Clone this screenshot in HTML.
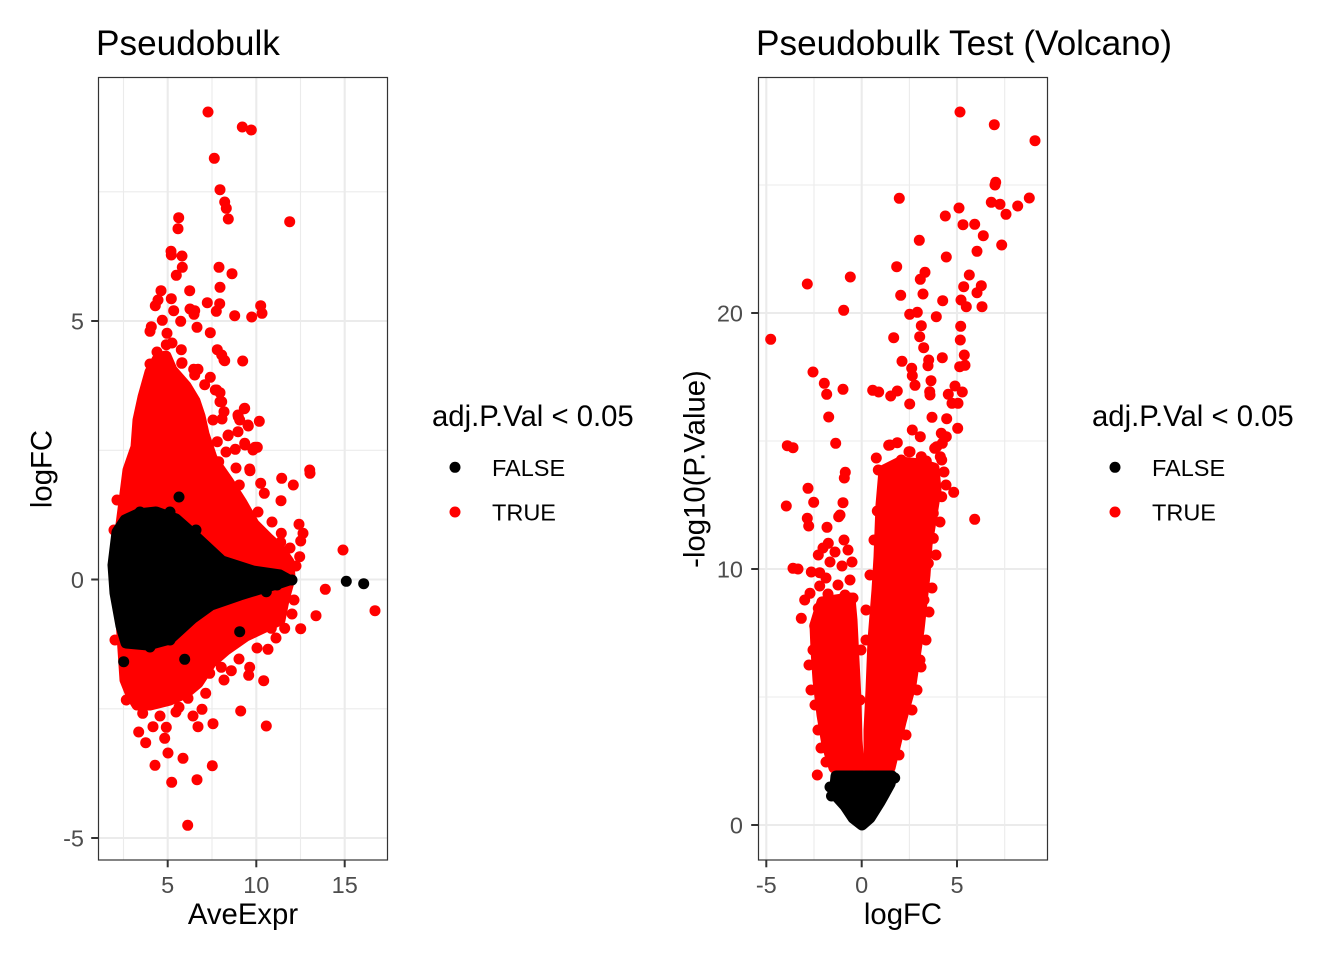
<!DOCTYPE html>
<html><head><meta charset="utf-8"><style>
html,body{margin:0;padding:0;background:#fff;}
svg{display:block;}
text{font-family:"Liberation Sans",Arial,sans-serif;}
</style></head><body>
<svg width="1344" height="960" viewBox="0 0 1344 960" xmlns="http://www.w3.org/2000/svg">
<rect width="1344" height="960" fill="#fff"/>
<defs>
<clipPath id="cl"><rect x="98.5" y="77.5" width="289" height="782.5"/></clipPath>
<clipPath id="cr"><rect x="758.5" y="77.5" width="289" height="782.5"/></clipPath>
</defs>

<text x="96" y="55" font-size="35.2" fill="#000">Pseudobulk</text>
<text x="756" y="55" font-size="35.2" fill="#000">Pseudobulk Test (Volcano)</text>

<!-- ===== LEFT PANEL ===== -->
<g stroke="#EBEBEB" fill="none">
<g stroke-width="1.1">
<line x1="123.5" y1="77.5" x2="123.5" y2="860"/><line x1="212" y1="77.5" x2="212" y2="860"/><line x1="300.5" y1="77.5" x2="300.5" y2="860"/>
<line x1="98.5" y1="191.8" x2="387.5" y2="191.8"/><line x1="98.5" y1="450.3" x2="387.5" y2="450.3"/><line x1="98.5" y1="708.8" x2="387.5" y2="708.8"/>
</g>
<g stroke-width="2.1">
<line x1="167.7" y1="77.5" x2="167.7" y2="860"/><line x1="256.3" y1="77.5" x2="256.3" y2="860"/><line x1="344.7" y1="77.5" x2="344.7" y2="860"/>
<line x1="98.5" y1="321" x2="387.5" y2="321"/><line x1="98.5" y1="579.5" x2="387.5" y2="579.5"/><line x1="98.5" y1="838" x2="387.5" y2="838"/>
</g>
</g>

<g clip-path="url(#cl)">
<path fill="#FF0000" stroke="#FF0000" stroke-width="11" stroke-linejoin="round" d="M166,356 L172,370 L186,386 L195,401 L200,416 L204,434 L212,458 L228,481 L242,503 L254,524 L268,538 L280,549 L289,562 L290,578 L284,600 L280,620 L263,628 L246,636 L226,650 L211,663 L198,683 L186,693 L170,700 L150,705 L137,705 L131,695 L125,680 L123,650 L121,620 L119,580 L119,540 L122,517 L128,470 L136,447 L138,420 L143,397 L150,372 L158,358 Z"/>
<g fill="#FF0000">
<circle cx="208" cy="112" r="5.5"/><circle cx="242.3" cy="127" r="5.5"/><circle cx="251.3" cy="130" r="5.5"/><circle cx="214.3" cy="158.3" r="5.5"/><circle cx="220" cy="189.7" r="5.5"/><circle cx="224.7" cy="202" r="5.5"/><circle cx="226.3" cy="208.3" r="5.5"/><circle cx="228.3" cy="219" r="5.5"/><circle cx="289.7" cy="221.7" r="5.5"/><circle cx="178.7" cy="217.7" r="5.5"/><circle cx="178" cy="228.7" r="5.5"/><circle cx="171" cy="251.3" r="5.5"/><circle cx="171.3" cy="255" r="5.5"/><circle cx="182" cy="256" r="5.5"/><circle cx="182.3" cy="267.3" r="5.5"/><circle cx="176.3" cy="275.3" r="5.5"/><circle cx="219" cy="267.3" r="5.5"/><circle cx="232" cy="273.7" r="5.5"/><circle cx="220" cy="287.3" r="5.5"/><circle cx="161" cy="290.7" r="5.5"/><circle cx="158" cy="300" r="5.5"/><circle cx="155.3" cy="305.7" r="5.5"/><circle cx="171.3" cy="298.7" r="5.5"/><circle cx="189.7" cy="290.7" r="5.5"/><circle cx="207.3" cy="302.7" r="5.5"/><circle cx="219.7" cy="303.7" r="5.5"/><circle cx="216.3" cy="311.3" r="5.5"/><circle cx="173.7" cy="310.7" r="5.5"/><circle cx="190" cy="309" r="5.5"/><circle cx="194.7" cy="310.7" r="5.5"/><circle cx="194" cy="314.3" r="5.5"/><circle cx="234.7" cy="315.7" r="5.5"/><circle cx="251.7" cy="317" r="5.5"/><circle cx="260.7" cy="305.7" r="5.5"/><circle cx="262" cy="313.3" r="5.5"/><circle cx="162.3" cy="320.3" r="5.5"/><circle cx="180.7" cy="321.3" r="5.5"/><circle cx="151.3" cy="326.7" r="5.5"/><circle cx="150" cy="331.3" r="5.5"/><circle cx="167" cy="333.3" r="5.5"/><circle cx="197" cy="327.3" r="5.5"/><circle cx="210.3" cy="332.7" r="5.5"/><circle cx="166.3" cy="344.7" r="5.5"/><circle cx="172" cy="343" r="5.5"/><circle cx="157" cy="352" r="5.5"/><circle cx="150" cy="364" r="5.5"/><circle cx="181.3" cy="349.7" r="5.5"/><circle cx="217.3" cy="349.7" r="5.5"/><circle cx="221.7" cy="355" r="5.5"/><circle cx="224.7" cy="360.7" r="5.5"/><circle cx="242.7" cy="361" r="5.5"/><circle cx="182" cy="362.7" r="5.5"/><circle cx="193.7" cy="369.3" r="5.5"/><circle cx="198" cy="369.3" r="5.5"/><circle cx="194.7" cy="375" r="5.5"/><circle cx="210.3" cy="377.3" r="5.5"/><circle cx="204.7" cy="384.7" r="5.5"/><circle cx="215.3" cy="390" r="5.5"/><circle cx="220" cy="392.7" r="5.5"/><circle cx="220" cy="401.7" r="5.5"/><circle cx="180.7" cy="400" r="5.5"/><circle cx="224" cy="411.7" r="5.5"/><circle cx="222" cy="419" r="5.5"/><circle cx="244.7" cy="408.3" r="5.5"/><circle cx="238" cy="415" r="5.5"/><circle cx="239.7" cy="420" r="5.5"/><circle cx="248" cy="425" r="5.5"/><circle cx="259.3" cy="421.3" r="5.5"/><circle cx="228" cy="435.7" r="5.5"/><circle cx="238" cy="431.7" r="5.5"/><circle cx="217.3" cy="441.7" r="5.5"/><circle cx="235.3" cy="449.3" r="5.5"/><circle cx="244.7" cy="443.3" r="5.5"/><circle cx="253" cy="450" r="5.5"/><circle cx="257.3" cy="447.3" r="5.5"/><circle cx="218.7" cy="461.7" r="5.5"/><circle cx="249.7" cy="469" r="5.5"/><circle cx="309.7" cy="470" r="5.5"/>
<circle cx="181.7" cy="363.3" r="5.5"/><circle cx="224" cy="360" r="5.5"/><circle cx="216.7" cy="390" r="5.5"/><circle cx="221.7" cy="401.7" r="5.5"/><circle cx="244.3" cy="408.7" r="5.5"/><circle cx="238.3" cy="416.7" r="5.5"/><circle cx="248.3" cy="426" r="5.5"/><circle cx="228.3" cy="435" r="5.5"/><circle cx="245" cy="445" r="5.5"/><circle cx="255" cy="447.3" r="5.5"/><circle cx="250" cy="470.7" r="5.5"/><circle cx="260.7" cy="483.3" r="5.5"/><circle cx="264.3" cy="493.3" r="5.5"/><circle cx="281.7" cy="478.3" r="5.5"/><circle cx="293.3" cy="485" r="5.5"/><circle cx="310" cy="473.3" r="5.5"/><circle cx="281" cy="500.7" r="5.5"/><circle cx="299" cy="524.3" r="5.5"/>
<circle cx="239.3" cy="485" r="5.5"/><circle cx="238" cy="498" r="5.5"/><circle cx="303" cy="533.3" r="5.5"/><circle cx="300.7" cy="541" r="5.5"/><circle cx="299.7" cy="556.7" r="5.5"/><circle cx="281.3" cy="533.3" r="5.5"/><circle cx="280.7" cy="542.3" r="5.5"/><circle cx="268" cy="541" r="5.5"/><circle cx="343" cy="550" r="5.5"/><circle cx="325.3" cy="589.3" r="5.5"/><circle cx="375" cy="610.7" r="5.5"/><circle cx="316" cy="615.7" r="5.5"/><circle cx="300.7" cy="628.7" r="5.5"/><circle cx="284.7" cy="628.3" r="5.5"/><circle cx="271.3" cy="628.3" r="5.5"/><circle cx="268" cy="649.3" r="5.5"/><circle cx="263.7" cy="680.7" r="5.5"/><circle cx="249.7" cy="667.3" r="5.5"/><circle cx="248.7" cy="675.3" r="5.5"/><circle cx="231.3" cy="670.7" r="5.5"/><circle cx="221.3" cy="667.3" r="5.5"/><circle cx="209.7" cy="673.3" r="5.5"/><circle cx="205.7" cy="693.3" r="5.5"/><circle cx="240.7" cy="711" r="5.5"/><circle cx="266.3" cy="726" r="5.5"/><circle cx="213" cy="723.7" r="5.5"/><circle cx="202" cy="709.3" r="5.5"/><circle cx="193" cy="716" r="5.5"/><circle cx="198" cy="726.7" r="5.5"/><circle cx="179" cy="707.3" r="5.5"/><circle cx="188" cy="698.3" r="5.5"/><circle cx="166.3" cy="727.3" r="5.5"/><circle cx="164.7" cy="738.3" r="5.5"/><circle cx="168" cy="753" r="5.5"/><circle cx="183" cy="758.3" r="5.5"/><circle cx="155" cy="765.3" r="5.5"/><circle cx="212.3" cy="765.7" r="5.5"/><circle cx="171.7" cy="782.3" r="5.5"/><circle cx="197" cy="779.7" r="5.5"/><circle cx="187.7" cy="825.3" r="5.5"/>
<circle cx="126.3" cy="700" r="5.5"/><circle cx="142.7" cy="713.3" r="5.5"/><circle cx="138.7" cy="732" r="5.5"/><circle cx="145.7" cy="742.7" r="5.5"/><circle cx="153" cy="726.7" r="5.5"/><circle cx="160" cy="716" r="5.5"/><circle cx="176" cy="712" r="5.5"/>
<circle cx="213" cy="420" r="5.5"/><circle cx="226" cy="452" r="5.5"/><circle cx="236" cy="468" r="5.5"/><circle cx="258" cy="512" r="5.5"/><circle cx="272" cy="522" r="5.5"/><circle cx="290" cy="548" r="5.5"/><circle cx="296" cy="566" r="5.5"/><circle cx="294" cy="600" r="5.5"/><circle cx="292" cy="614" r="5.5"/><circle cx="276" cy="638" r="5.5"/><circle cx="257" cy="648" r="5.5"/><circle cx="239" cy="659" r="5.5"/><circle cx="224" cy="680" r="5.5"/><circle cx="117" cy="500" r="5.5"/><circle cx="114" cy="530" r="5.5"/><circle cx="115" cy="640" r="5.5"/>
</g>
<path fill="#000" stroke="#000" stroke-width="11" stroke-linejoin="round" d="M138,514 L156,512 L176,519 L193,534 L222,561 L253,571 L280,575 L289,580 L280,583 L263,588 L240,595 L211,605 L193,618 L170,639 L148,645 L126,643 L121,626 L115,593 L113,565 L117,532 L125,520 Z"/>
<g fill="#000">
<circle cx="179" cy="497" r="5.5"/><circle cx="239.7" cy="631.7" r="5.5"/><circle cx="184.7" cy="659.3" r="5.5"/><circle cx="123.7" cy="661.7" r="5.5"/><circle cx="346.3" cy="581.3" r="5.5"/><circle cx="363.7" cy="583.7" r="5.5"/><circle cx="266.3" cy="591.7" r="5.5"/><circle cx="270" cy="577" r="5.5"/><circle cx="285" cy="578" r="5.5"/><circle cx="292" cy="580" r="5.5"/><circle cx="277" cy="585" r="5.5"/><circle cx="262" cy="582" r="5.5"/><circle cx="196" cy="530" r="5.5"/><circle cx="170" cy="512" r="5.5"/><circle cx="140" cy="512" r="5.5"/><circle cx="150" cy="647" r="5.5"/><circle cx="170" cy="640" r="5.5"/>
</g>
</g>
<rect x="98.5" y="77.5" width="289" height="782.5" fill="none" stroke="#333333" stroke-width="1.2"/>

<g stroke="#333333" stroke-width="2">
<line x1="91.2" y1="321" x2="98.5" y2="321"/><line x1="91.2" y1="579.5" x2="98.5" y2="579.5"/><line x1="91.2" y1="838" x2="98.5" y2="838"/>
<line x1="167.7" y1="860" x2="167.7" y2="867.3"/><line x1="256.3" y1="860" x2="256.3" y2="867.3"/><line x1="344.7" y1="860" x2="344.7" y2="867.3"/>
</g>
<g font-size="23.5" fill="#4D4D4D">
<text x="84" y="329.4" text-anchor="end">5</text>
<text x="84" y="587.9" text-anchor="end">0</text>
<text x="84" y="846.4" text-anchor="end">-5</text>
<text x="167.7" y="893" text-anchor="middle">5</text>
<text x="256.3" y="893" text-anchor="middle">10</text>
<text x="344.7" y="893" text-anchor="middle">15</text>
</g>
<text x="243" y="924" font-size="29.3" text-anchor="middle" fill="#000">AveExpr</text>
<text transform="translate(51.4,469) rotate(-90)" font-size="29.3" text-anchor="middle" fill="#000">logFC</text>

<text x="432" y="426" font-size="29.3" fill="#000">adj.P.Val &lt; 0.05</text>
<circle cx="455" cy="467.3" r="5.5" fill="#000"/>
<circle cx="455" cy="512" r="5.5" fill="#FF0000"/>
<text x="492" y="476" font-size="23.5" fill="#000">FALSE</text>
<text x="492" y="520.7" font-size="23.5" fill="#000">TRUE</text>

<!-- ===== RIGHT PANEL ===== -->
<g stroke="#EBEBEB" fill="none">
<g stroke-width="1.1">
<line x1="814" y1="77.5" x2="814" y2="860"/><line x1="909.4" y1="77.5" x2="909.4" y2="860"/><line x1="1004.7" y1="77.5" x2="1004.7" y2="860"/>
<line x1="758.5" y1="185" x2="1047.5" y2="185"/><line x1="758.5" y1="441" x2="1047.5" y2="441"/><line x1="758.5" y1="697" x2="1047.5" y2="697"/>
</g>
<g stroke-width="2.1">
<line x1="766.3" y1="77.5" x2="766.3" y2="860"/><line x1="861.7" y1="77.5" x2="861.7" y2="860"/><line x1="957" y1="77.5" x2="957" y2="860"/>
<line x1="758.5" y1="313" x2="1047.5" y2="313"/><line x1="758.5" y1="569" x2="1047.5" y2="569"/><line x1="758.5" y1="825" x2="1047.5" y2="825"/>
</g>
</g>

<g clip-path="url(#cr)">
<g fill="#FF0000" stroke="#FF0000" stroke-width="11" stroke-linejoin="round">
<path d="M822,602 L850,598 L852,620 L854,660 L856,700 L857,740 L859,768 L834,768 L827,745 L822,715 L818,680 L816,650 L815,625 Z"/>
<path d="M884,470 L900,462 L920,464 L934,468 L936,490 L932,515 L927,545 L925,575 L919,630 L911,685 L901,722 L890,768 L869,768 L869,730 L871,690 L873,640 L877,590 L879,557 L881,505 Z"/>
</g>
<g fill="#FF0000">
<circle cx="960" cy="112" r="5.5"/><circle cx="994.3" cy="124.7" r="5.5"/><circle cx="1035" cy="140.7" r="5.5"/><circle cx="995.7" cy="182.3" r="5.5"/><circle cx="995" cy="185" r="5.5"/><circle cx="899.3" cy="198.3" r="5.5"/><circle cx="991.3" cy="202.3" r="5.5"/><circle cx="1000" cy="204.3" r="5.5"/><circle cx="1029.3" cy="198" r="5.5"/><circle cx="1017.7" cy="206" r="5.5"/><circle cx="1006" cy="214.3" r="5.5"/><circle cx="959" cy="208" r="5.5"/><circle cx="945.3" cy="216" r="5.5"/><circle cx="963" cy="224.7" r="5.5"/><circle cx="974.7" cy="224.3" r="5.5"/><circle cx="983.3" cy="235.7" r="5.5"/><circle cx="1001.7" cy="245" r="5.5"/><circle cx="919.3" cy="240.3" r="5.5"/><circle cx="977" cy="251.3" r="5.5"/><circle cx="946.3" cy="257" r="5.5"/><circle cx="896.7" cy="266.7" r="5.5"/><circle cx="925" cy="272.3" r="5.5"/><circle cx="920.3" cy="279.3" r="5.5"/><circle cx="807.3" cy="284" r="5.5"/><circle cx="850.3" cy="277" r="5.5"/><circle cx="969.3" cy="275" r="5.5"/><circle cx="963.7" cy="286.7" r="5.5"/><circle cx="981.3" cy="285.7" r="5.5"/><circle cx="977" cy="292.7" r="5.5"/><circle cx="900.7" cy="295.3" r="5.5"/><circle cx="923" cy="294" r="5.5"/><circle cx="942.7" cy="300.7" r="5.5"/><circle cx="961" cy="300" r="5.5"/><circle cx="966.3" cy="306.7" r="5.5"/><circle cx="982" cy="306.7" r="5.5"/><circle cx="843.7" cy="310.3" r="5.5"/><circle cx="909.7" cy="314.3" r="5.5"/><circle cx="917.3" cy="312.3" r="5.5"/><circle cx="936.3" cy="316.7" r="5.5"/><circle cx="921.3" cy="325.7" r="5.5"/><circle cx="960.7" cy="326.3" r="5.5"/><circle cx="770.7" cy="339.3" r="5.5"/><circle cx="893.7" cy="337.7" r="5.5"/><circle cx="919.7" cy="336.7" r="5.5"/><circle cx="923.7" cy="347.7" r="5.5"/><circle cx="960.3" cy="340" r="5.5"/><circle cx="964.3" cy="355" r="5.5"/><circle cx="942.3" cy="357.7" r="5.5"/><circle cx="928.7" cy="360" r="5.5"/><circle cx="928" cy="365.7" r="5.5"/><circle cx="965" cy="365.3" r="5.5"/><circle cx="959.7" cy="366.7" r="5.5"/><circle cx="902" cy="361.3" r="5.5"/><circle cx="911.7" cy="368.3" r="5.5"/><circle cx="912.3" cy="375.7" r="5.5"/><circle cx="813" cy="372" r="5.5"/><circle cx="824.3" cy="383.3" r="5.5"/><circle cx="826.7" cy="394.3" r="5.5"/><circle cx="843" cy="389.3" r="5.5"/><circle cx="872.7" cy="390.3" r="5.5"/><circle cx="878.7" cy="392" r="5.5"/><circle cx="890.7" cy="396" r="5.5"/><circle cx="897.3" cy="391" r="5.5"/><circle cx="915" cy="385.3" r="5.5"/><circle cx="931" cy="380.7" r="5.5"/><circle cx="929.7" cy="391.7" r="5.5"/><circle cx="930" cy="395" r="5.5"/><circle cx="955" cy="386" r="5.5"/><circle cx="962.3" cy="392" r="5.5"/><circle cx="948.3" cy="394.3" r="5.5"/><circle cx="952" cy="403.3" r="5.5"/><circle cx="958" cy="403.3" r="5.5"/><circle cx="909.7" cy="404" r="5.5"/><circle cx="828.7" cy="417" r="5.5"/><circle cx="932" cy="417.3" r="5.5"/><circle cx="946.7" cy="418.7" r="5.5"/><circle cx="957.7" cy="428.3" r="5.5"/><circle cx="912.3" cy="430" r="5.5"/><circle cx="920.3" cy="436.7" r="5.5"/><circle cx="941.3" cy="433.3" r="5.5"/><circle cx="946.3" cy="436.7" r="5.5"/><circle cx="942.3" cy="443.3" r="5.5"/><circle cx="787.3" cy="445.7" r="5.5"/><circle cx="793" cy="447.7" r="5.5"/><circle cx="835.7" cy="443.3" r="5.5"/><circle cx="888.7" cy="445.3" r="5.5"/><circle cx="897.3" cy="442.7" r="5.5"/><circle cx="909" cy="451.7" r="5.5"/><circle cx="934.7" cy="448.3" r="5.5"/><circle cx="876.3" cy="458" r="5.5"/><circle cx="921.3" cy="456.7" r="5.5"/><circle cx="926.3" cy="461" r="5.5"/><circle cx="940.3" cy="456.7" r="5.5"/><circle cx="901.3" cy="460" r="5.5"/>
<circle cx="786.3" cy="506" r="5.5"/><circle cx="808" cy="488.3" r="5.5"/><circle cx="813.7" cy="502.3" r="5.5"/><circle cx="807.3" cy="518.3" r="5.5"/><circle cx="808.7" cy="526" r="5.5"/><circle cx="845.3" cy="472.3" r="5.5"/><circle cx="844.3" cy="478" r="5.5"/><circle cx="843" cy="502.7" r="5.5"/><circle cx="838.7" cy="516.7" r="5.5"/><circle cx="840" cy="515" r="5.5"/><circle cx="827" cy="527.3" r="5.5"/><circle cx="844" cy="540" r="5.5"/><circle cx="828.3" cy="543.3" r="5.5"/><circle cx="818.3" cy="555" r="5.5"/><circle cx="974.7" cy="519.3" r="5.5"/><circle cx="953.7" cy="492.3" r="5.5"/><circle cx="817.3" cy="775" r="5.5"/><circle cx="793" cy="568.3" r="5.5"/><circle cx="798" cy="569" r="5.5"/><circle cx="811.3" cy="572" r="5.5"/><circle cx="819.7" cy="572.7" r="5.5"/><circle cx="804.7" cy="600" r="5.5"/><circle cx="801.3" cy="618.3" r="5.5"/><circle cx="814.7" cy="626" r="5.5"/><circle cx="819.7" cy="586" r="5.5"/><circle cx="810" cy="593.3" r="5.5"/><circle cx="818.3" cy="608.3" r="5.5"/>
<circle cx="823" cy="548" r="5.5"/><circle cx="835" cy="552" r="5.5"/><circle cx="848" cy="550" r="5.5"/><circle cx="852" cy="562" r="5.5"/><circle cx="830" cy="562" r="5.5"/><circle cx="842" cy="566" r="5.5"/><circle cx="826" cy="578" r="5.5"/><circle cx="850" cy="580" r="5.5"/><circle cx="838" cy="585" r="5.5"/><circle cx="845" cy="595" r="5.5"/><circle cx="828" cy="594" r="5.5"/><circle cx="853" cy="598" r="5.5"/><circle cx="833" cy="604" r="5.5"/>
<circle cx="813" cy="650" r="5.5"/><circle cx="809" cy="665" r="5.5"/><circle cx="811" cy="690" r="5.5"/><circle cx="815" cy="705" r="5.5"/><circle cx="818" cy="730" r="5.5"/><circle cx="821" cy="748" r="5.5"/><circle cx="826" cy="762" r="5.5"/><circle cx="860" cy="700" r="5.5"/><circle cx="861" cy="650" r="5.5"/>
<circle cx="890" cy="445" r="5.5"/><circle cx="878.3" cy="470" r="5.5"/><circle cx="886.7" cy="476.7" r="5.5"/><circle cx="910" cy="451.7" r="5.5"/><circle cx="936.7" cy="446.7" r="5.5"/><circle cx="941.7" cy="460" r="5.5"/><circle cx="941.7" cy="496.7" r="5.5"/><circle cx="933.3" cy="513.3" r="5.5"/><circle cx="933.3" cy="538.3" r="5.5"/><circle cx="928.3" cy="563.3" r="5.5"/><circle cx="877.3" cy="511" r="5.5"/><circle cx="866" cy="610" r="5.5"/><circle cx="866" cy="640" r="5.5"/><circle cx="924" cy="600" r="5.5"/><circle cx="920" cy="660" r="5.5"/>
<circle cx="944" cy="472" r="5.5"/><circle cx="946" cy="485" r="5.5"/><circle cx="940" cy="522" r="5.5"/><circle cx="936" cy="555" r="5.5"/><circle cx="932" cy="588" r="5.5"/><circle cx="929" cy="612" r="5.5"/><circle cx="926" cy="640" r="5.5"/><circle cx="921" cy="667" r="5.5"/><circle cx="917" cy="690" r="5.5"/><circle cx="912" cy="710" r="5.5"/><circle cx="906" cy="735" r="5.5"/><circle cx="899" cy="755" r="5.5"/><circle cx="874" cy="540" r="5.5"/><circle cx="870" cy="575" r="5.5"/>
</g>
<path fill="#000" stroke="#000" stroke-width="11" stroke-linejoin="round" d="M836,776 L892,776 L890,784 L880,802 L870,818 L862,825 L853,818 L845,806 L836,796 L835,786 Z"/>
<g fill="#000">
<circle cx="830" cy="787" r="5.5"/><circle cx="831.5" cy="796" r="5.5"/><circle cx="894.7" cy="778" r="5.5"/>
</g>
</g>
<rect x="758.5" y="77.5" width="289" height="782.5" fill="none" stroke="#333333" stroke-width="1.2"/>

<g stroke="#333333" stroke-width="2">
<line x1="751.2" y1="313" x2="758.5" y2="313"/><line x1="751.2" y1="569" x2="758.5" y2="569"/><line x1="751.2" y1="825" x2="758.5" y2="825"/>
<line x1="766.3" y1="860" x2="766.3" y2="867.3"/><line x1="861.7" y1="860" x2="861.7" y2="867.3"/><line x1="957" y1="860" x2="957" y2="867.3"/>
</g>
<g font-size="23.5" fill="#4D4D4D">
<text x="743" y="321.4" text-anchor="end">20</text>
<text x="743" y="577.4" text-anchor="end">10</text>
<text x="743" y="833.4" text-anchor="end">0</text>
<text x="766.3" y="893" text-anchor="middle">-5</text>
<text x="861.7" y="893" text-anchor="middle">0</text>
<text x="957" y="893" text-anchor="middle">5</text>
</g>
<text x="903" y="924" font-size="29.3" text-anchor="middle" fill="#000">logFC</text>
<text transform="translate(704.7,469) rotate(-90)" font-size="29.3" text-anchor="middle" fill="#000">-log10(P.Value)</text>

<text x="1092" y="426" font-size="29.3" fill="#000">adj.P.Val &lt; 0.05</text>
<circle cx="1115" cy="467.3" r="5.5" fill="#000"/>
<circle cx="1115" cy="512" r="5.5" fill="#FF0000"/>
<text x="1152" y="476" font-size="23.5" fill="#000">FALSE</text>
<text x="1152" y="520.7" font-size="23.5" fill="#000">TRUE</text>
</svg>
</body></html>
